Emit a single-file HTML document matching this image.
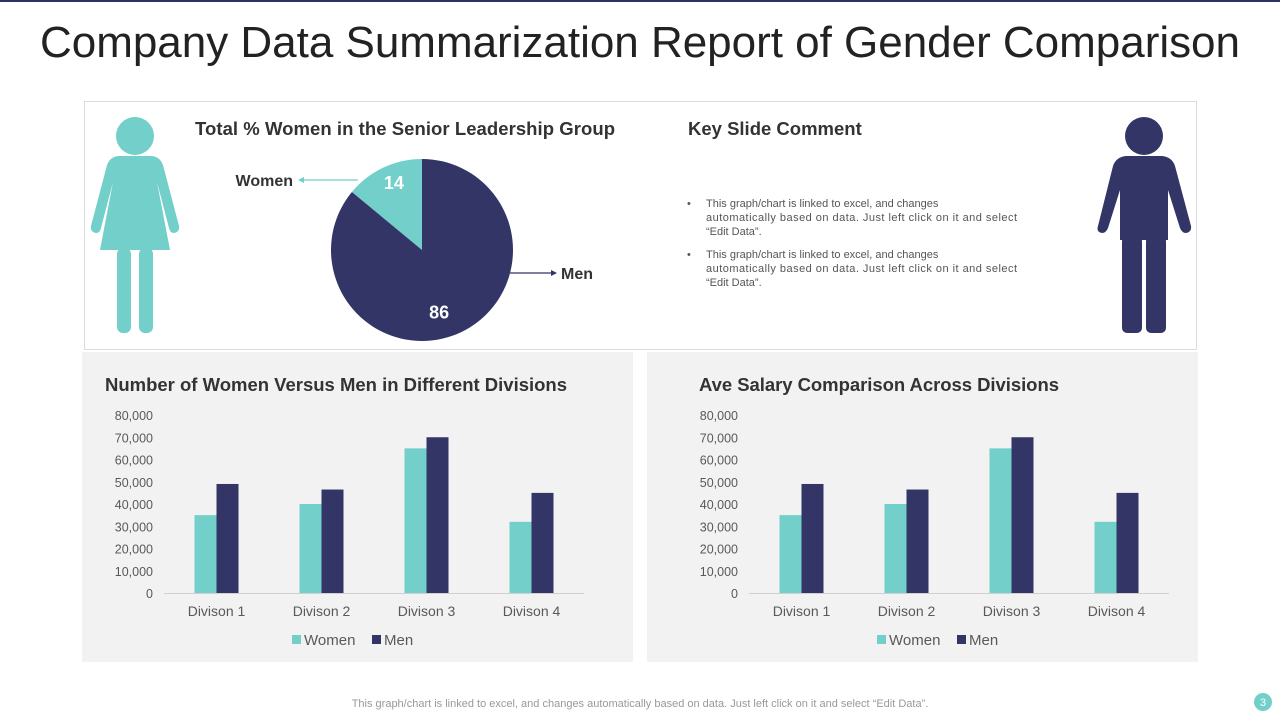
<!DOCTYPE html>
<html><head><meta charset="utf-8"><style>
body{margin:0;width:1280px;height:720px;background:#fff;overflow:hidden;font-family:"Liberation Sans",sans-serif}
svg{display:block}
</style></head><body>
<svg id="s" width="1280" height="720" viewBox="0 0 1280 720">
<rect x="0" y="0" width="1280" height="2" fill="#2f3160"/>
<text x="640" y="57" text-anchor="middle" font-size="44" textLength="1200" fill="#222">Company Data Summarization Report of Gender Comparison</text>
<rect x="84.5" y="101.5" width="1112" height="248" fill="#fff" stroke="#dcdcdc"/>
<g fill="#72cfc9">
<circle cx="135" cy="136" r="19"/>
<path d="M118,156 L152,156 Q160,157 163,165 L179,226 Q180,232 174,233 Q170,233 169,228 L157,182 L170,250 L100,250 L113,182 L101,228 Q100,233 96,233 Q90,232 91,226 L107,165 Q110,157 118,156 Z"/>
<rect x="117" y="248" width="14" height="85" rx="6"/>
<rect x="139" y="248" width="14" height="85" rx="6"/>
</g>
<g fill="#333567">
<circle cx="1144" cy="136" r="19"/>
<path d="M1126,156 L1162,156 Q1172,157 1175,166 L1191,226 Q1192,232 1186,233 Q1182,233 1180,228 L1168,190 L1168,240 L1120,240 L1120,190 L1108,228 Q1106,233 1102,233 Q1096,232 1098,226 L1113,166 Q1116,157 1126,156 Z"/>
<rect x="1122" y="236" width="20" height="97" rx="5"/>
<rect x="1146" y="236" width="20" height="97" rx="5"/>
</g>
<text x="195" y="135" font-size="18.5" textLength="420" font-weight="bold" fill="#333">Total % Women in the Senior Leadership Group</text>
<g id="pie"></g>
<text x="293" y="186" text-anchor="end" font-size="16" font-weight="bold" fill="#333">Women</text>
<line x1="300" y1="180" x2="358" y2="180" stroke="#72cfc9" stroke-width="1.2"/>
<path d="M298,180 L304,177 L304,183 Z" fill="#72cfc9"/>
<line x1="510" y1="273" x2="552" y2="273" stroke="#333567" stroke-width="1.2"/>
<path d="M557,273 L551,270 L551,276 Z" fill="#333567"/>
<text x="561" y="279" font-size="16" font-weight="bold" fill="#333">Men</text>
<text x="688" y="135" font-size="18.5" font-weight="bold" fill="#333">Key Slide Comment</text>
<g font-size="11" fill="#555">
<text x="687" y="207">•</text>
<text x="706" y="207">This graph/chart is linked to excel, and changes</text>
<text x="706" y="221" textLength="311">automatically based on data. Just left click on it and select</text>
<text x="706" y="235">“Edit Data”.</text>
<text x="687" y="258">•</text>
<text x="706" y="258">This graph/chart is linked to excel, and changes</text>
<text x="706" y="272" textLength="311">automatically based on data. Just left click on it and select</text>
<text x="706" y="286">“Edit Data”.</text>
</g>
<rect x="82" y="352" width="551" height="310" fill="#f2f2f2"/>
<rect x="647" y="352" width="551" height="310" fill="#f2f2f2"/>
<text x="105" y="391" font-size="18.5" textLength="462" font-weight="bold" fill="#333">Number of Women Versus Men in Different Divisions</text>
<text x="699" y="391" font-size="18.5" textLength="360" font-weight="bold" fill="#333">Ave Salary Comparison Across Divisions</text>
<g id="c1"></g>
<g id="c2"></g>
<text x="640" y="707" text-anchor="middle" font-size="11" fill="#999">This graph/chart is linked to excel, and changes automatically based on data. Just left click on it and select “Edit Data”.</text>
<circle cx="1263" cy="702" r="9" fill="#72cfc9"/>
<text x="1263" y="706" text-anchor="middle" font-size="11" fill="#fff">3</text>
</svg>
<script>
const pieLabels=["Women","Men"];
const pieValues=[14,86];
const categories=["Divison 1","Divison 2","Divison 3","Divison 4"];
const womenCounts=[35000,40000,65000,32000];
const menCounts=[49000,46500,70000,45000];
const womenSalary=[35000,40000,65000,32000];
const menSalary=[49000,46500,70000,45000];
const yTicks=[0,10000,20000,30000,40000,50000,60000,70000,80000];
const NS="http://www.w3.org/2000/svg";
function mk(tag,attrs,parent){const e=document.createElementNS(NS,tag);for(const k in attrs)e.setAttribute(k,attrs[k]);parent.appendChild(e);return e;}
(function(){
 const g=document.getElementById('pie');const cx=422,cy=250,r=91;
 const total=pieValues.reduce((a,b)=>a+b,0);const cols=["#72cfc9","#333567"];
 let a0=0;
 pieValues.forEach((v,i)=>{
  const a1=a0-v/total*2*Math.PI;
  const x0=cx+r*Math.sin(a0),y0=cy-r*Math.cos(a0),x1=cx+r*Math.sin(a1),y1=cy-r*Math.cos(a1);
  const large=(v/total>0.5)?1:0;
  const p=mk('path',{d:`M${cx},${cy} L${x0},${y0} A${r},${r} 0 ${large} 0 ${x1},${y1} Z`,fill:cols[i]},g);
  
  
  const am=(a0+a1)/2,lr=i==0?r*0.75:r*0.7;
  const tx=i==0?cx+lr*Math.sin(am)+1:cx+lr*Math.sin(am)-10;
  const ty=i==0?cy-lr*Math.cos(am)+1:cy-lr*Math.cos(am)+11;
  const t=mk('text',{x:tx,y:ty,'text-anchor':'middle','font-size':18,'font-weight':'bold',fill:'#fff'},g);
  t.textContent=v;
  
  
  a0=a1;
 });
})();
function bars(id,left,W,M){
 const g=document.getElementById(id);const base=593,top=415,maxV=80000,plotW=420,band=plotW/categories.length,bw=22;
 const y=v=>base-(v/maxV)*(base-top);
 yTicks.forEach(t=>{const tx=mk('text',{x:left-11,y:y(t)+5,'text-anchor':'end','font-size':12.5,fill:'#595959'},g);tx.textContent=t.toLocaleString('en-US');
  
  });
 const ax=mk('line',{x1:left,y1:base+0.5,x2:left+plotW,y2:base+0.5,stroke:'#d0d0d0'},g);
 
 
 categories.forEach((c,i)=>{
  const cx=left+band*(i+0.5);
  const b1=mk('rect',{x:cx-bw,y:y(W[i]),width:bw,height:base-y(W[i]),fill:'#72cfc9'},g);
  
  
  const b2=mk('rect',{x:cx,y:y(M[i]),width:bw,height:base-y(M[i]),fill:'#333567'},g);
  
  
  const t=mk('text',{x:cx,y:616,'text-anchor':'middle','font-size':14,fill:'#595959'},g);t.textContent=c;
  
  
 });
 const lx=left+128;
 const l1=mk('rect',{x:lx,y:635,width:9,height:9,fill:'#72cfc9'},g);
 
 
 const lt1=mk('text',{x:lx+12,y:645,'font-size':15,fill:'#595959'},g);lt1.textContent='Women';
 
 
 const l2=mk('rect',{x:lx+80,y:635,width:9,height:9,fill:'#333567'},g);
 
 
 const lt2=mk('text',{x:lx+92,y:645,'font-size':15,fill:'#595959'},g);lt2.textContent='Men';
 
 
}
bars('c1',164,womenCounts,menCounts);
bars('c2',749,womenSalary,menSalary);
</script>
</body></html>
